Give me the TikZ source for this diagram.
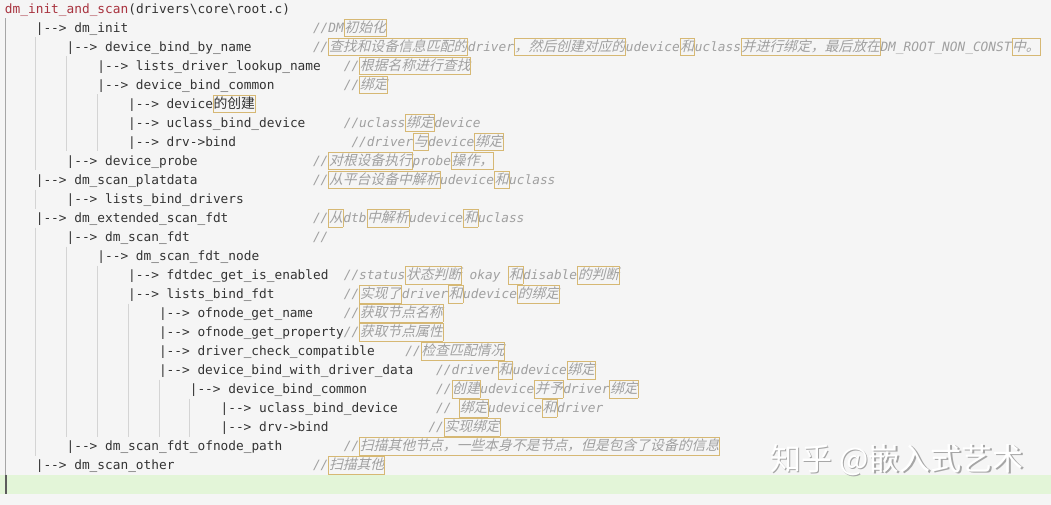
\documentclass[tikz,border=0pt]{standalone}
\usepackage{fontspec}
\usepackage{xcolor}
\newfontfamily\srcmono{DejaVu Sans Mono}[Ligatures=TeXOff]
\newfontfamily\zhfont{Noto Sans CJK SC}[Scale=1.08]
\newfontfamily\zhslant{Noto Sans CJK SC}[Scale=1.08,FakeSlant=0.25]
\newfontfamily\wmfont{Noto Sans CJK SC}

\definecolor{codebg}{HTML}{F5F5F5}
\definecolor{codefg}{HTML}{333333}
\definecolor{notefg}{HTML}{A0A0A0}
\definecolor{fnred}{HTML}{A8323E}
\definecolor{boxc}{HTML}{D6B874}
\definecolor{guidec}{HTML}{D4D4D4}
\definecolor{lineg}{HTML}{E3F5D8}

\newcommand{\srcfont}{\fontsize{12.8}{15}\selectfont\srcmono}
\newcommand{\srcit}{\fontsize{12.8}{15}\selectfont\srcmono\itshape}
% boxed CJK runs, as the editor marks them
\newcommand{\zh}[1]{{\setlength{\fboxsep}{0pt}\setlength{\fboxrule}{0.6pt}\fcolorbox{boxc}{codebg}{\rule[-4pt]{0pt}{17pt}\zhslant#1}}}
\newcommand{\zhup}[1]{{\setlength{\fboxsep}{0pt}\setlength{\fboxrule}{0.6pt}\fcolorbox{boxc}{codebg}{\rule[-4pt]{0pt}{17pt}\zhfont#1}}}

\begin{document}
\begin{tikzpicture}[
  x=1pt, y=-1pt,
  code/.style={anchor=base west, inner sep=0pt, outer sep=0pt, font=\srcfont, text=codefg},
  note/.style={code, font=\srcit, text=notefg},
  guide/.style={draw=guidec, line width=0.8pt},
  mainguide/.style={draw=gray!70, line width=0.8pt}
]
\useasboundingbox (0,0) rectangle (1051,505);
\fill[codebg] (0,0) rectangle (1051,505);
\fill[lineg] (0,474.5) rectangle (1051,493.5);
\draw[codefg!80, line width=2pt] (6,474.5) -- (6,493.5);

% indent guides
\draw[mainguide] (5,18.5) -- (5,474.5);
\draw[guide] (35.8,37.5) -- (35.8,170.5);
\draw[guide] (35.8,189.5) -- (35.8,208.5);
\draw[guide] (35.8,227.5) -- (35.8,455.5);
\draw[guide] (66.6,56.5) -- (66.6,151.5);
\draw[guide] (66.6,246.5) -- (66.6,436.5);
\draw[guide] (97.4,94.5) -- (97.4,151.5);
\draw[guide] (97.4,265.5) -- (97.4,436.5);
\draw[guide] (128.2,303.5) -- (128.2,436.5);
\draw[guide] (159,379.5) -- (159,436.5);
\draw[guide] (189.8,398.5) -- (189.8,436.5);

% call tree
\node[code] (r1) at (5,13.5) {\textcolor{fnred}{dm\_init\_and\_scan}(drivers\textbackslash core\textbackslash root.c)};
\node[code] (r2) at (35.8,32.5) {|--> dm\_init};
\node[code] (r3) at (66.6,51.5) {|--> device\_bind\_by\_name};
\node[code] (r4) at (97.4,70.5) {|--> lists\_driver\_lookup\_name};
\node[code] (r5) at (97.4,89.5) {|--> device\_bind\_common};
\node[code] (r6) at (128.2,108.5) {|--> device\zhup{的创建}};
\node[code] (r7) at (128.2,127.5) {|--> uclass\_bind\_device};
\node[code] (r8) at (128.2,146.5) {|--> drv->bind};
\node[code] (r9) at (66.6,165.5) {|--> device\_probe};
\node[code] (r10) at (35.8,184.5) {|--> dm\_scan\_platdata};
\node[code] (r11) at (66.6,203.5) {|--> lists\_bind\_drivers};
\node[code] (r12) at (35.8,222.5) {|--> dm\_extended\_scan\_fdt};
\node[code] (r13) at (66.6,241.5) {|--> dm\_scan\_fdt};
\node[code] (r14) at (97.4,260.5) {|--> dm\_scan\_fdt\_node};
\node[code] (r15) at (128.2,279.5) {|--> fdtdec\_get\_is\_enabled};
\node[code] (r16) at (128.2,298.5) {|--> lists\_bind\_fdt};
\node[code] (r17) at (159,317.5) {|--> ofnode\_get\_name};
\node[code] (r18) at (159,336.5) {|--> ofnode\_get\_property};
\node[code] (r19) at (159,355.5) {|--> driver\_check\_compatible};
\node[code] (r20) at (159,374.5) {|--> device\_bind\_with\_driver\_data};
\node[code] (r21) at (189.8,393.5) {|--> device\_bind\_common};
\node[code] (r22) at (220.6,412.5) {|--> uclass\_bind\_device};
\node[code] (r23) at (220.6,431.5) {|--> drv->bind};
\node[code] (r24) at (66.6,450.5) {|--> dm\_scan\_fdt\_ofnode\_path};
\node[code] (r25) at (35.8,469.5) {|--> dm\_scan\_other};

% comments
\node[note] (c2) at (313,32.5) {//DM\zh{初始化}};
\node[note] (c3) at (313,51.5) {//\zh{查找和设备信息匹配的}driver\zh{，然后创建对应的}udevice\zh{和}uclass\zh{并进行绑定，最后放在}DM\_ROOT\_NON\_CONST\zh{中。}};
\node[note] (c4) at (343.8,70.5) {//\zh{根据名称进行查找}};
\node[note] (c5) at (343.8,89.5) {//\zh{绑定}};
\node[note] (c7) at (343.8,127.5) {//uclass\zh{绑定}device};
\node[note] (c8) at (351.5,146.5) {//driver\zh{与}device\zh{绑定}};
\node[note] (c9) at (313,165.5) {//\zh{对根设备执行}probe\zh{操作，}};
\node[note] (c10) at (313,184.5) {//\zh{从平台设备中解析}udevice\zh{和}uclass};
\node[note] (c12) at (313,222.5) {//\zh{从}dtb\zh{中解析}udevice\zh{和}uclass};
\node[note] (c13) at (313,241.5) {//};
\node[note] (c15) at (343.8,279.5) {//status\zh{状态判断} okay \zh{和}disable\zh{的判断}};
\node[note] (c16) at (343.8,298.5) {//\zh{实现了}driver\zh{和}udevice\zh{的绑定}};
\node[note] (c17) at (343.8,317.5) {//\zh{获取节点名称}};
\node[note] (c18) at (343.8,336.5) {//\zh{获取节点属性}};
\node[note] (c19) at (405.4,355.5) {//\zh{检查匹配情况}};
\node[note] (c20) at (436.2,374.5) {//driver\zh{和}udevice\zh{绑定}};
\node[note] (c21) at (436.2,393.5) {//\zh{创建}udevice\zh{并予}driver\zh{绑定}};
\node[note] (c22) at (436.2,412.5) {// \zh{绑定}udevice\zh{和}driver};
\node[note] (c23) at (428.5,431.5) {//\zh{实现绑定}};
\node[note] (c24) at (343.8,450.5) {//\zh{扫描其他节点，一些本身不是节点，但是包含了设备的信息}};
\node[note] (c25) at (313,469.5) {//\zh{扫描其他}};

% watermark
\node[font=\fontsize{31}{31}\selectfont\wmfont, text=gray!70, inner sep=0pt] (wmshadow) at (898.5,461.5) {知乎 @嵌入式艺术};
\node[font=\fontsize{31}{31}\selectfont\wmfont, text=white, inner sep=0pt] (wm) at (897,460) {知乎 @嵌入式艺术};
\end{tikzpicture}
\end{document}
